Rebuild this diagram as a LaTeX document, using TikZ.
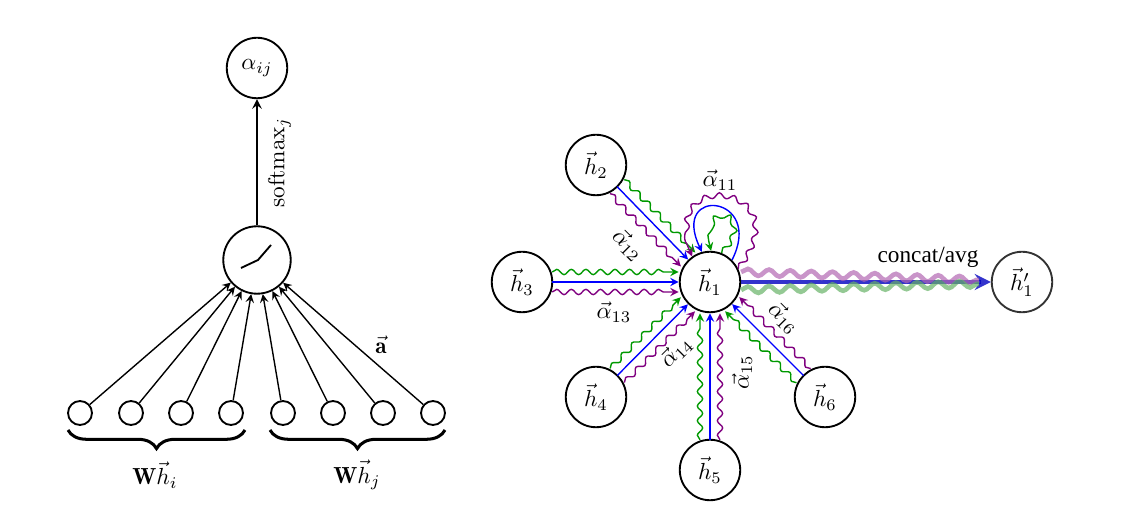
\documentclass[tikz,border=0pt]{standalone}
\usepackage{fontspec}
\newfontfamily\tms{Liberation Serif}
\usetikzlibrary{decorations.pathmorphing,decorations.pathreplacing,calc,arrows.meta}
\begin{document}
\begin{tikzpicture}[x=0.43pt,y=-0.43pt,
  big/.style={circle,draw,thick,minimum size=26pt,inner sep=0pt},
  small/.style={circle,draw,thick,minimum size=10.3pt,inner sep=0pt},
  arr/.style={->,>=stealth,thick},
  sn/.style={->,>=stealth,semithick,decorate,decoration={snake,amplitude=.4mm,segment length=2.2mm,post length=1.4mm}},
  gsn/.style={sn,green!60!black},
  psn/.style={sn,violet},
  bl/.style={->,>=stealth,semithick,blue}]
\useasboundingbox (0,0) rectangle (1143,512);
% ---- left
\node[big] (al) at (257,68) {$\alpha_{ij}$};
\node[big,minimum size=29pt] (act) at (257,260) {};
\draw[thick] (241,268) -- (258,260) -- (271,245);
\draw[arr] (act) -- node[rotate=90,anchor=north,yshift=-1pt] {softmax$_j$} (al);
\foreach \i/\x in {1/80,2/131,3/181,4/231,5/283,6/333,7/383,8/433}{
  \node[small] (s\i) at (\x,413) {};
  \draw[arr,semithick] (s\i) -- (act);
}
\node at (381,345) {$\vec{\mathbf{a}}$};
\draw[decorate,decoration={brace,mirror,amplitude=8pt},line width=1.3pt] (68,430) -- (245,430);
\draw[decorate,decoration={brace,mirror,amplitude=8pt},line width=1.3pt] (270,430) -- (445,430);
\node at (155,475) {$\mathbf{W}\vec{h}_i$};
\node at (357,475) {$\mathbf{W}\vec{h}_j$};
% ---- right
\node[big] (h1) at (710,282) {$\vec{h}_1$};
\node[big] (h2) at (596,165) {$\vec{h}_2$};
\node[big] (h3) at (522,282) {$\vec{h}_3$};
\node[big] (h4) at (596,397) {$\vec{h}_4$};
\node[big] (h5) at (710,470) {$\vec{h}_5$};
\node[big] (h6) at (825,397) {$\vec{h}_6$};
\node[big,draw=black!80] (hp) at (1022,282) {$\vec{h}'_1$};
\foreach \k in {2,3,4,5,6}{
  \coordinate (a\k) at ($(h\k.center)!13pt!(h1.center)$);
  \coordinate (b\k) at ($(h1.center)!13.5pt!(h\k.center)$);
  \draw[bl] (a\k) -- (b\k);
  \draw[gsn] ($(a\k)!4.3pt!90:(b\k)$) -- ($(b\k)!4.3pt!-90:(a\k)$);
  \draw[psn] ($(a\k)!4.3pt!-90:(b\k)$) -- ($(b\k)!4.3pt!90:(a\k)$);
}
\node[rotate=-45] at (628,245) {$\vec{\alpha}_{12}$};
\node at (614,312) {$\vec{\alpha}_{13}$};
\node[rotate=45] at (676,352) {$\vec{\alpha}_{14}$};
\node[rotate=90] at (742,372) {$\vec{\alpha}_{15}$};
\node[rotate=-45] at (784,318) {$\vec{\alpha}_{16}$};
% self loops
\draw[bl] (h1.45) .. controls (765,195) and (670,185) .. (h1.105);
\draw[psn] (h1.25) .. controls (800,185) and (650,170) .. (h1.125);
\draw[gsn] (h1.68) .. controls (755,215) and (695,200) .. (h1.88);
\node at (720,180) {$\vec{\alpha}_{11}$};
% concat
\draw[->,>=stealth,line width=2pt,blue!75!black,opacity=.8] (h1) -- (hp);
\draw[violet!60,line width=2pt,opacity=.7,decorate,decoration={snake,amplitude=.5mm,segment length=3.2mm}] ($(h1.east)+(0,-10)$) -- ($(hp.west)+(-12,-2)$);
\draw[green!50!black!60,line width=2pt,opacity=.7,decorate,decoration={snake,amplitude=.5mm,segment length=3.2mm}] ($(h1.east)+(0,8)$) -- ($(hp.west)+(-12,2)$);
\node[font=\tms] at (928,257) {concat/avg};
\end{tikzpicture}
\end{document}
